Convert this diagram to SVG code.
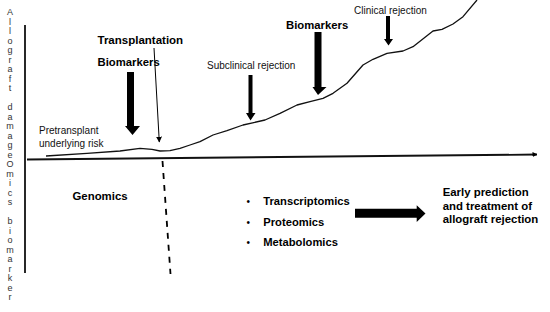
<svg xmlns="http://www.w3.org/2000/svg" width="550" height="312" viewBox="0 0 550 312">
<defs>
<style>
.t{font-family:"Liberation Sans",Arial,sans-serif;fill:#111}
.b{font-weight:bold;font-size:11.3px;fill:#000}
.n{font-size:10px}
.bul{font-size:10px;fill:#000}
.v{font-family:"Liberation Sans",Arial,sans-serif;font-size:9px;fill:#333;text-anchor:middle}
.ax{stroke:#111;stroke-width:1.8;fill:none}
.fill{fill:#000}
</style>
<marker id="ah" viewBox="0 0 10 10" refX="9" refY="5" markerWidth="5" markerHeight="5" orient="auto" markerUnits="userSpaceOnUse">
<path d="M0,0 L10,5 L0,10 z" fill="#000"/>
</marker>
<marker id="ah2" viewBox="0 0 10 10" refX="9" refY="5" markerWidth="6" markerHeight="6" orient="auto" markerUnits="userSpaceOnUse">
<path d="M0,0 L10,5 L0,10 z" fill="#000"/>
</marker>
</defs>
<rect width="550" height="312" fill="#fff"/>

<g id="y-axis-label">
<text class="v" x="10"><tspan x="10" y="15">A</tspan><tspan x="10" y="24.5">l</tspan><tspan x="10" y="34">l</tspan><tspan x="10" y="43.5">o</tspan><tspan x="10" y="53">g</tspan><tspan x="10" y="62.5">r</tspan><tspan x="10" y="72">a</tspan><tspan x="10" y="81.5">f</tspan><tspan x="10" y="91">t</tspan><tspan x="10" y="110">d</tspan><tspan x="10" y="119.5">a</tspan><tspan x="10" y="129">m</tspan><tspan x="10" y="138.5">a</tspan><tspan x="10" y="148">g</tspan><tspan x="10" y="157.5">e</tspan><tspan x="10" y="167">O</tspan><tspan x="10" y="176.5">m</tspan><tspan x="10" y="186">i</tspan><tspan x="10" y="195.5">c</tspan><tspan x="10" y="205">s</tspan><tspan x="10" y="224">b</tspan><tspan x="10" y="233.5">i</tspan><tspan x="10" y="243">o</tspan><tspan x="10" y="252.5">m</tspan><tspan x="10" y="262">a</tspan><tspan x="10" y="271.5">r</tspan><tspan x="10" y="281">k</tspan><tspan x="10" y="290.5">e</tspan><tspan x="10" y="300">r</tspan></text>
</g>

<g id="connectors">
<line class="ax" x1="25" y1="25" x2="25" y2="273"/>
<line class="ax" x1="27" y1="159.5" x2="537" y2="154.5" marker-end="url(#ah)"/>
<path d="M46,156 L87,153.3 L120,151 L140,148.3 L152,149.3 L160,151 L170,150.7 L180,148.3 L190,145 L200,141.7 L213,135 L227,130.7 L243,125 L265,120 L280,113.3 L297,105 L310,101.7 L323,98.3 L333,93.3 L347,83.3 L363,65 L373,59.3 L387,53.3 L403,51 L413,46.7 L433,31 L442,29.3 L453,24 L463,16.7 L477,0" fill="none" stroke="#111" stroke-width="1.3" stroke-linejoin="round"/>
<line x1="162.5" y1="161" x2="170.5" y2="274" stroke="#000" stroke-width="1.8" stroke-dasharray="6,6"/>
<line x1="154" y1="48" x2="159.3" y2="142" stroke="#000" stroke-width="1" marker-end="url(#ah2)"/>
<polygon class="fill" points="127,72 134,72 134,126 140,126 132.5,135 125,126 127,126"/>
<polygon class="fill" points="314.5,32 321.5,32 321.5,87 326.5,87 318,95 312.5,87 314.5,87"/>
<polygon class="fill" points="248.5,75 252.5,75 252.5,113 255.5,113 250.5,120.5 246,113 248.5,113"/>
<polygon class="fill" points="386,16 390,16 390,39 393,39 388.5,45.5 384,39 386,39"/>
<polygon class="fill" points="355,208.8 416.7,208.8 416.7,205.3 425.5,213.5 416.7,222 416.7,217.8 355,217.8"/>
</g>

<g id="transplantation">
<text class="t b" x="97.5" y="43.5" style="font-size:11.5px">Transplantation</text>
</g>
<g id="biomarkers-1">
<text class="t b" x="97.5" y="66">Biomarkers</text>
</g>
<g id="pretransplant">
<text class="t n" x="39" y="134">Pretransplant</text>
<text class="t n" x="39" y="147">underlying risk</text>
</g>
<g id="subclinical">
<text class="t n" x="207" y="69">Subclinical rejection</text>
</g>
<g id="biomarkers-2">
<text class="t b" x="286" y="29">Biomarkers</text>
</g>
<g id="clinical">
<text class="t n" x="354" y="14">Clinical rejection</text>
</g>
<g id="genomics">
<text class="t b" x="72.5" y="200" style="font-size:11.4px">Genomics</text>
</g>
<g id="omics-list">
<text class="t bul" x="246.5" y="205">•</text>
<text class="t b" x="263.3" y="205" style="font-size:11.2px">Transcriptomics</text>
<text class="t bul" x="246.5" y="226">•</text>
<text class="t b" x="263.3" y="226" style="font-size:11.2px">Proteomics</text>
<text class="t bul" x="246.5" y="246">•</text>
<text class="t b" x="263.3" y="246" style="font-size:11.2px">Metabolomics</text>
</g>
<g id="outcome">
<text class="t b" x="442.7" y="196" style="font-size:11.4px">Early prediction</text>
<text class="t b" x="442.7" y="209.7" style="font-size:11.4px">and treatment of</text>
<text class="t b" x="442.7" y="223.4" style="font-size:11.4px">allograft rejection</text>
</g>
</svg>
